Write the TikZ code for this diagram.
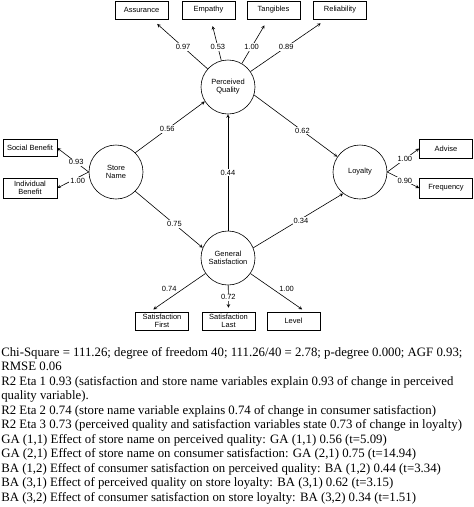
\documentclass[tikz,border=0pt]{standalone}
\usepackage{fontspec}
\setmainfont{Liberation Serif}
\newfontfamily\diagfont{Liberation Sans}
\begin{document}
\begin{tikzpicture}[>=stealth, x=1pt, y=-1pt, line width=0.6pt,
  indic/.style={draw, minimum width=53pt, minimum height=18pt, align=center, inner sep=1pt, font=\diagfont\fontsize{7.5}{8}\selectfont},
  latent/.style={draw, circle, minimum size=54pt, align=center, inner sep=0pt, font=\diagfont\fontsize{7.5}{8}\selectfont},
  coef/.style={fill=white, inner sep=1pt, font=\diagfont\fontsize{7.5}{8}\selectfont},
  notes/.style={align=left, inner sep=0pt, font=\fontsize{12.8}{14.5}\selectfont}]
\useasboundingbox (0,0) rectangle (474,507);

% indicators of perceived quality
\node[indic] (assur) at (141.5,10) {Assurance};
\node[indic] (emp) at (208.5,10) {Empathy};
\node[indic] (tang) at (273.5,10) {Tangibles};
\node[indic] (rel) at (340,10) {Reliability};

% latent variables
\node[latent] (pq) at (228,87) {Perceived\\Quality};
\node[latent] (sn) at (116,172) {Store\\Name};
\node[latent] (loy) at (360,172) {Loyalty};
\node[latent] (gs) at (228,258) {General\\Satisfaction};

% side indicators
\node[indic, minimum width=54pt, minimum height=17pt] (social) at (30,148) {Social Benefit};
\node[indic, minimum width=54pt, minimum height=20pt] (indiv) at (30,188) {Individual\\Benefit};
\node[indic, minimum height=19pt] (advise) at (446,148.5) {Advise};
\node[indic, minimum height=20pt] (freq) at (446,188) {Frequency};

% indicators of satisfaction
\node[indic] (sfirst) at (162,321) {Satisfaction\\First};
\node[indic] (slast) at (228.5,321) {Satisfaction\\Last};
\node[indic] (level) at (293.5,321) {Level};

\draw[->, shorten >=7pt] (pq) -- node[coef, pos=.44] {0.97} (assur);
\draw[->, shorten >=7pt] (pq) -- node[coef, pos=.33] {0.53} (emp);
\draw[->, shorten >=7pt] (pq) -- node[coef, pos=.37] {1.00} (tang);
\draw[->, shorten >=7pt] (pq) -- node[coef, pos=.47] {0.89} (rel);

\draw[->] (sn.west) -- node[coef, pos=.4] {0.93} (social.east);
\draw[->] (sn.west) -- node[coef, pos=.35, anchor=north, yshift=1pt] {1.00} (indiv.east);
\draw[->] (loy.east) -- node[coef, pos=.55] {1.00} (advise.west);
\draw[->] (loy.east) -- node[coef, pos=.55] {0.90} (freq.west);

\draw[->] (sn.45) -- node[coef, pos=.46] {0.56} (pq.212);
\draw[->] (sn.-45) -- node[coef, pos=.58] {0.75} (gs.158);
\draw[->] (gs) -- node[coef, pos=.5] {0.44} (pq);
\draw[->] (pq.-17) -- node[coef, pos=.58] {0.62} (loy.146);
\draw[->] (gs.22) -- node[coef, pos=.53, anchor=north, yshift=2pt] {0.34} (loy.232);

\draw[->, shorten >=4pt] (gs) -- node[coef, pos=.5, anchor=south east] {0.74} ([xshift=-12pt]sfirst.north);
\draw[->, shorten >=4pt] (gs) -- node[coef, pos=.45] {0.72} (slast.north);
\draw[->, shorten >=4pt] (gs) -- node[coef, pos=.5, anchor=south west] {1.00} ([xshift=12pt]level.north);

\node[notes, anchor=north west] (notes) at (1,347) {Chi-Square = 111.26; degree of freedom 40; 111.26/40 = 2.78; p-degree 0.000; AGF 0.93;\\
RMSE 0.06\\
R2 Eta 1 0.93 (satisfaction and store name variables explain 0.93 of change in perceived\\
quality variable).\\
R2 Eta 2 0.74 (store name variable explains 0.74 of change in consumer satisfaction)\\
R2 Eta 3 0.73 (perceived quality and satisfaction variables state 0.73 of change in loyalty)\\
GA (1,1) Effect of store name on perceived quality: GA (1,1) 0.56 (t=5.09)\\
GA (2,1) Effect of store name on consumer satisfaction: GA (2,1) 0.75 (t=14.94)\\
BA (1,2) Effect of consumer satisfaction on perceived quality: BA (1,2) 0.44 (t=3.34)\\
BA (3,1) Effect of perceived quality on store loyalty: BA (3,1) 0.62 (t=3.15)\\
BA (3,2) Effect of consumer satisfaction on store loyalty: BA (3,2) 0.34 (t=1.51)};
\end{tikzpicture}
\end{document}
